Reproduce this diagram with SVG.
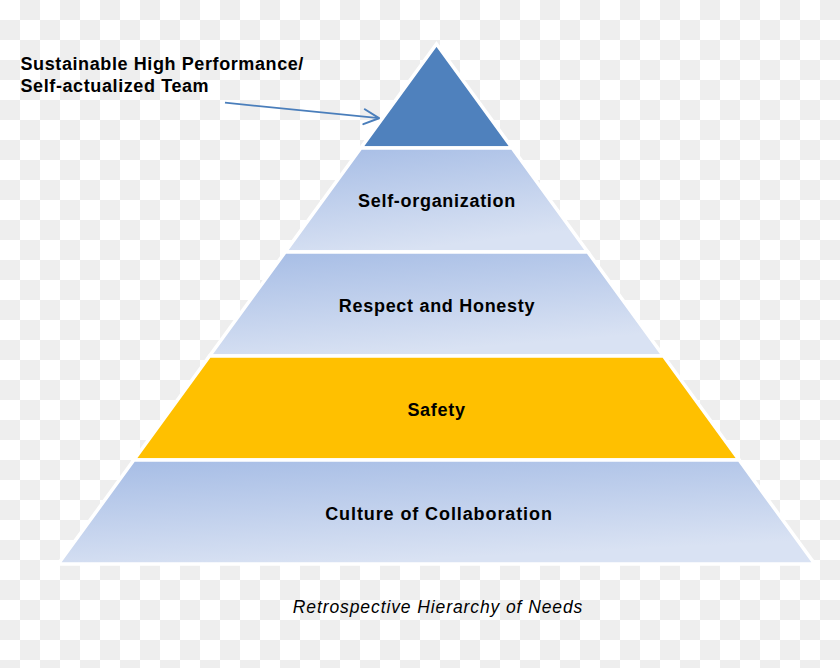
<svg xmlns="http://www.w3.org/2000/svg" width="840" height="668" viewBox="0 0 840 668">
  <defs>
    <pattern id="checker" x="0" y="0" width="40" height="40" patternUnits="userSpaceOnUse">
      <rect x="0" y="0" width="40" height="40" fill="#ffffff"/>
      <rect x="20" y="0" width="20" height="20" fill="#eeeeee"/>
      <rect x="0" y="20" width="20" height="20" fill="#eeeeee"/>
    </pattern>
    <linearGradient id="blueGrad" x1="0" y1="0" x2="0.35" y2="1">
      <stop offset="0" stop-color="#a5bce5"/>
      <stop offset="1" stop-color="#d9e2f3"/>
    </linearGradient>
    <marker id="chevron" markerUnits="userSpaceOnUse" viewBox="-17 -10 19 20" refX="0" refY="0" markerWidth="19" markerHeight="20" orient="auto">
      <path d="M -15 -7.5 L 0 0 L -15 7.5" fill="none" stroke="#4a7ebb" stroke-width="2" stroke-linecap="round" stroke-linejoin="round"/>
    </marker>
    <style>
      .layer { stroke: #ffffff; stroke-width: 3.5; stroke-linejoin: miter; }
      .blue { fill: url(#blueGrad); }
      .lbl { font-family: "Liberation Sans", Arial, sans-serif; font-weight: bold; font-size: 18px; letter-spacing: 0.7px; fill: #000000; text-anchor: middle; }
      .callout { font-family: "Liberation Sans", Arial, sans-serif; font-weight: bold; font-size: 18px; letter-spacing: 0.6px; fill: #000000; }
      .caption { font-family: "Liberation Sans", Arial, sans-serif; font-style: italic; font-size: 17.5px; letter-spacing: 0.9px; fill: #000000; text-anchor: middle; }
      .conn { fill: none; stroke: #4a7ebb; stroke-width: 1.8; }
    </style>
  </defs>

  <rect x="0" y="0" width="840" height="668" fill="url(#checker)"/>

  <g id="layer-top">
    <polygon class="layer" fill="#4f81bd" points="436.5,44 512.16,148 360.84,148"/>
  </g>

  <g id="layer-self-organization">
    <polygon class="layer blue" points="360.84,148 512.16,148 587.82,252 285.18,252"/>
    <text class="lbl" x="437" y="206.5">Self-organization</text>
  </g>

  <g id="layer-respect">
    <polygon class="layer blue" points="285.18,252 587.82,252 663.48,356 209.52,356"/>
    <text class="lbl" x="437" y="311.5">Respect and Honesty</text>
  </g>

  <g id="layer-safety">
    <polygon class="layer" fill="#ffc000" points="209.52,356 663.48,356 739.14,460 133.86,460"/>
    <text class="lbl" x="436.5" y="415.5">Safety</text>
  </g>

  <g id="layer-culture">
    <polygon class="layer blue" points="133.86,460 739.14,460 814.8,564 58.2,564"/>
    <text class="lbl" x="439" y="520" style="letter-spacing:0.9px">Culture of Collaboration</text>
  </g>

  <g id="callout-label">
    <text class="callout" x="20.5" y="69.5">Sustainable High Performance/</text>
    <text class="callout" x="20.5" y="92.3">Self-actualized Team</text>
  </g>

  <g id="connectors">
    <line class="conn" x1="225" y1="102.7" x2="379" y2="118.2" marker-end="url(#chevron)"/>
  </g>

  <g id="caption">
    <text class="caption" x="438" y="613.3">Retrospective Hierarchy of Needs</text>
  </g>
</svg>
